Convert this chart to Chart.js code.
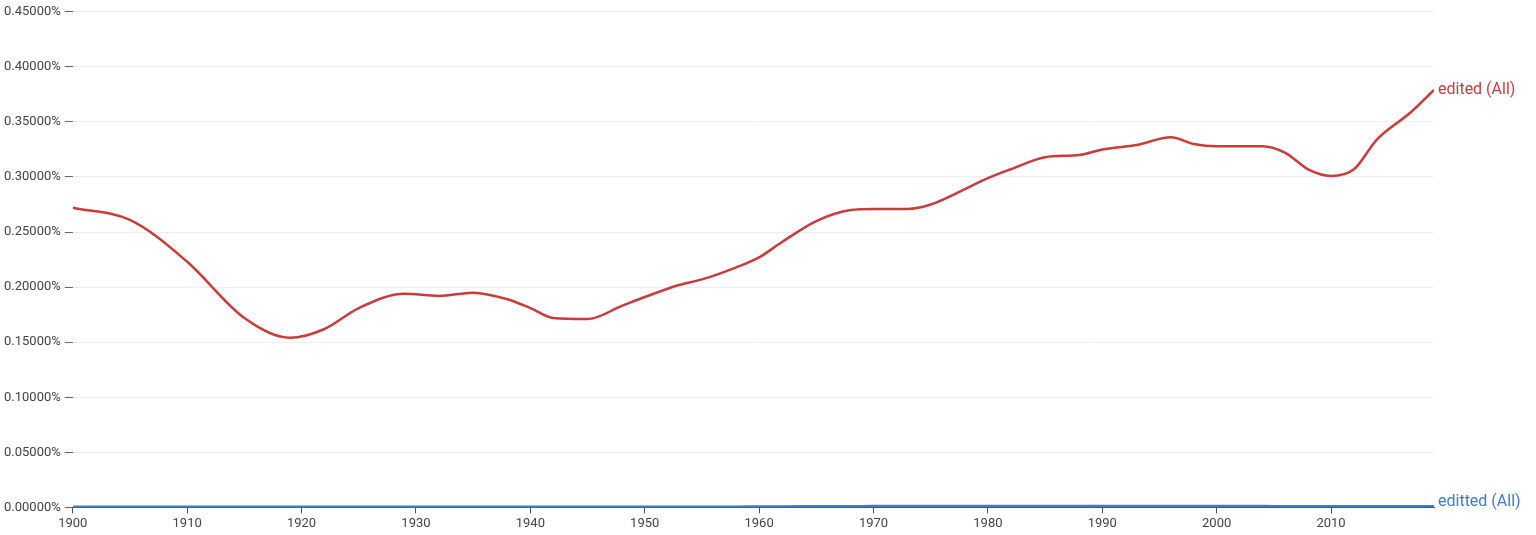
<!DOCTYPE html>
<html><head><meta charset="utf-8">
<script src="https://cdn.jsdelivr.net/npm/chart.js@4"></script>
<style>html,body{margin:0;padding:0;background:#fff}#w{width:1536px;height:535px}</style>
</head><body><div id="w"><canvas id="c"></canvas></div>
<script>
const years = [1900,1905,1910,1915,1919,1922,1925,1929,1932,1935,1938,1940,1942,1945,1948,1950,1953,1955,1958,1960,1962,1965,1968,1970,1973,1975,1978,1980,1982,1985,1988,1990,1993,1996,1998,2000,2004,2006,2008,2010,2012,2014,2017,2019];
const edited = [0.00272,0.00261,0.00223,0.00172,0.00154,0.00162,0.00181,0.00194,0.00192,0.00195,0.00189,0.00181,0.00172,0.00171,0.00183,0.00191,0.00202,0.00207,0.00218,0.00227,0.00241,0.00260,0.00270,0.00271,0.00271,0.00275,0.00289,0.00299,0.00307,0.00318,0.00320,0.00325,0.00329,0.00336,0.00330,0.00328,0.00328,0.00322,0.00307,0.00301,0.00307,0.00334,0.00359,0.00379];
const editted = [0.000005,0.000005,0.000005,0.000005,0.000005,0.000005,0.000005,0.000005,0.000005,0.000005,0.000005,0.000005,0.000005,0.000005,0.000005,0.000006,0.000006,0.000007,0.000007,0.000008,0.000009,0.00001,0.000011,0.000012,0.000012,0.000012,0.000012,0.000012,0.000012,0.000012,0.000012,0.000012,0.000012,0.000012,0.000012,0.000012,0.000012,0.000011,0.00001,0.00001,0.00001,0.00001,0.00001,0.00001];
const seriesNames = ["edited (All)","editted (All)"];
const colors = ["#cc3b3b","#3b7ccc"];
const pts = a => years.map((y,i)=>({x:y,y:a[i]}));
const endLabels = {id:'endLabels',afterDatasetsDraw(ch){
  const ctx=ch.ctx; ctx.save(); ctx.font='16px Roboto'; ctx.textBaseline='middle';
  ch.data.datasets.forEach((d,i)=>{const m=ch.getDatasetMeta(i).data; const p=m[m.length-1];
    ctx.fillStyle=colors[i]; ctx.fillText(seriesNames[i],p.x+4,p.y-(i===1?4:0));});
  ctx.restore();}};
new Chart(document.getElementById('c'),{type:'line',
 data:{datasets:[{data:pts(edited),borderColor:colors[0]},{data:pts(editted),borderColor:colors[1]}]},
 options:{responsive:true,maintainAspectRatio:false,animation:false,
  layout:{padding:{right:102,top:6,left:0,bottom:0}},
  elements:{point:{radius:0},line:{borderWidth:2.5,cubicInterpolationMode:'monotone'}},
  plugins:{legend:{display:false},tooltip:{enabled:false}},
  scales:{
   x:{type:'linear',min:1900,max:2019,afterBuildTicks(s){s.ticks=[1900,1910,1920,1930,1940,1950,1960,1970,1980,1990,2000,2010].map(v=>({value:v}));},
     grid:{drawOnChartArea:false,color:'#555',tickLength:6},border:{color:'#555'},
     ticks:{color:'#444',font:{family:'Roboto',size:13},maxRotation:0,callback:v=>String(v)}},
   y:{min:0,max:0.0045,afterBuildTicks(s){s.ticks=[0,1,2,3,4,5,6,7,8,9].map(k=>({value:k*0.0005}));},
     grid:{color:'#eeeeee',tickColor:'#666',tickLength:8},border:{display:false},
     ticks:{color:'#444',font:{family:'Roboto',size:13},padding:4,callback:v=>(v*100).toFixed(5)+'%'}}
  }},plugins:[endLabels]});
</script></body></html>
